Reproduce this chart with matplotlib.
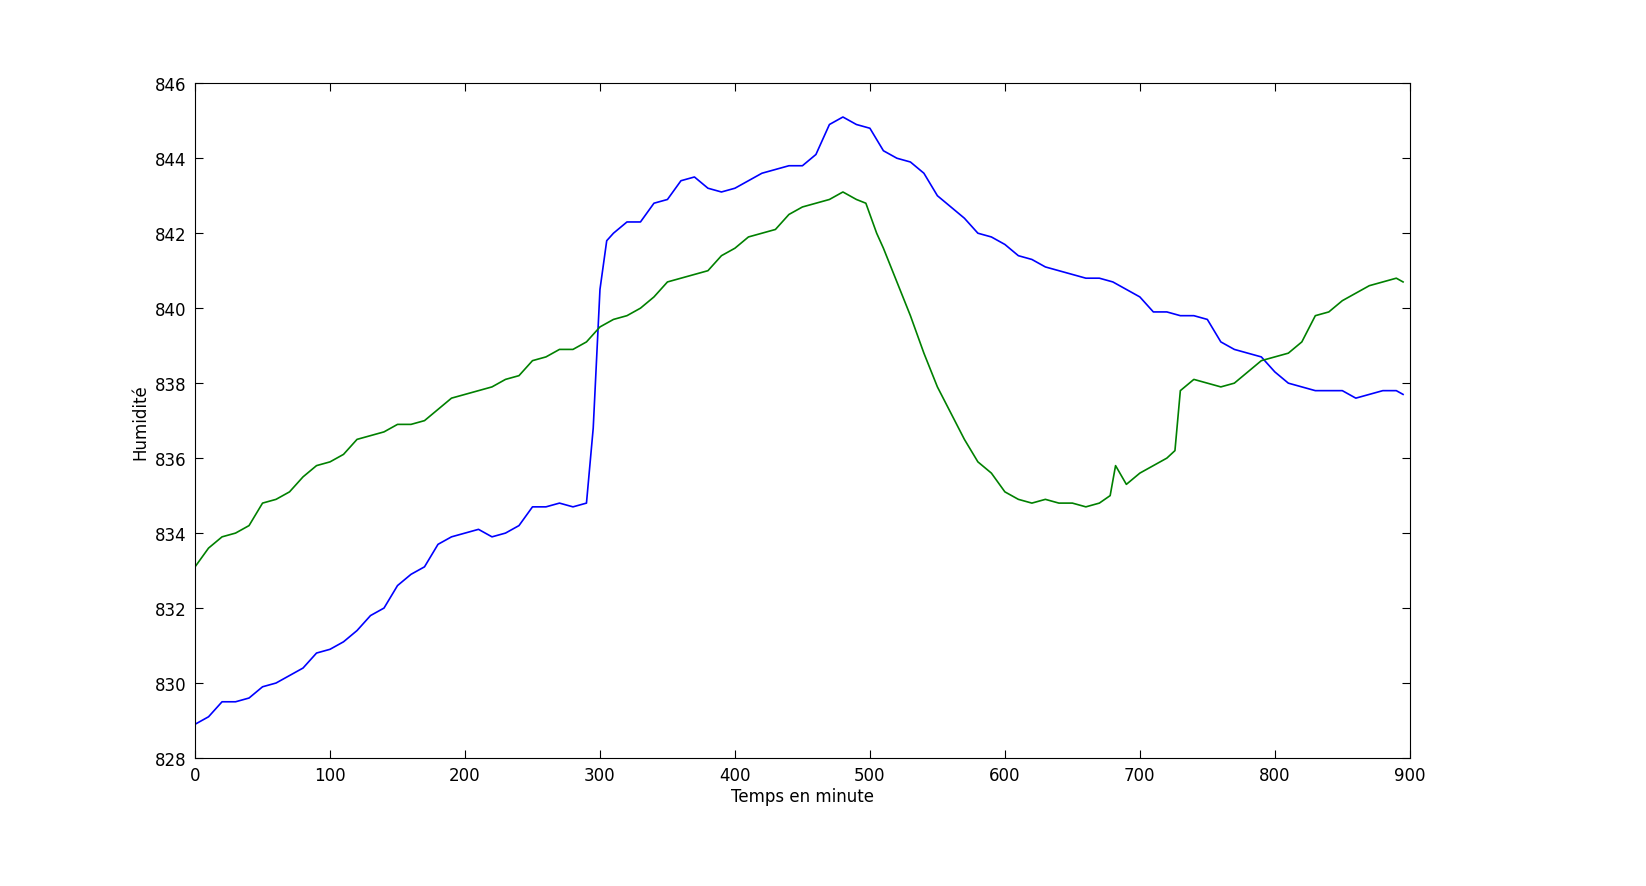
import matplotlib.pyplot as plt

t_bleu = [0, 10, 20, 30, 40, 50, 60, 70, 80, 90, 100, 110, 120, 130, 140, 150, 160, 170, 180, 190,
          200, 210, 220, 230, 240, 250, 260, 270, 280, 290, 295, 300, 305, 310, 320, 330, 340, 350,
          360, 370, 380, 390, 400, 410, 420, 430, 440, 450, 460, 470, 480, 490, 500, 510, 520, 530,
          540, 550, 560, 570, 580, 590, 600, 610, 620, 630, 640, 650, 660, 670, 680, 690, 700, 710,
          720, 730, 740, 750, 760, 770, 780, 790, 800, 810, 820, 830, 840, 850, 860, 870, 880, 890, 895]
bleu = [828.9, 829.1, 829.5, 829.5, 829.6, 829.9, 830.0, 830.2, 830.4, 830.8, 830.9, 831.1, 831.4,
        831.8, 832.0, 832.6, 832.9, 833.1, 833.7, 833.9, 834.0, 834.1, 833.9, 834.0, 834.2, 834.7,
        834.7, 834.8, 834.7, 834.8, 836.8, 840.5, 841.8, 842.0, 842.3, 842.3, 842.8, 842.9, 843.4,
        843.5, 843.2, 843.1, 843.2, 843.4, 843.6, 843.7, 843.8, 843.8, 844.1, 844.9, 845.1, 844.9,
        844.8, 844.2, 844.0, 843.9, 843.6, 843.0, 842.7, 842.4, 842.0, 841.9, 841.7, 841.4, 841.3,
        841.1, 841.0, 840.9, 840.8, 840.8, 840.7, 840.5, 840.3, 839.9, 839.9, 839.8, 839.8, 839.7,
        839.1, 838.9, 838.8, 838.7, 838.3, 838.0, 837.9, 837.8, 837.8, 837.8, 837.6, 837.7, 837.8,
        837.8, 837.7]

t_vert = [0, 10, 20, 30, 40, 50, 60, 70, 80, 90, 100, 110, 120, 130, 140, 150, 160, 170, 180, 190,
          200, 210, 220, 230, 240, 250, 260, 270, 280, 290, 300, 310, 320, 330, 340, 350, 360, 370,
          380, 390, 400, 410, 420, 430, 440, 450, 460, 470, 480, 490, 497, 505, 510, 520, 530, 540,
          550, 560, 570, 580, 590, 600, 610, 620, 630, 640, 650, 660, 670, 678, 682, 690, 700, 710,
          720, 726, 730, 740, 750, 760, 770, 780, 790, 800, 810, 820, 830, 840, 850, 860, 870, 880,
          890, 895]
vert = [833.1, 833.6, 833.9, 834.0, 834.2, 834.8, 834.9, 835.1, 835.5, 835.8, 835.9, 836.1, 836.5,
        836.6, 836.7, 836.9, 836.9, 837.0, 837.3, 837.6, 837.7, 837.8, 837.9, 838.1, 838.2, 838.6,
        838.7, 838.9, 838.9, 839.1, 839.5, 839.7, 839.8, 840.0, 840.3, 840.7, 840.8, 840.9, 841.0,
        841.4, 841.6, 841.9, 842.0, 842.1, 842.5, 842.7, 842.8, 842.9, 843.1, 842.9, 842.8, 842.0,
        841.6, 840.7, 839.8, 838.8, 837.9, 837.2, 836.5, 835.9, 835.6, 835.1, 834.9, 834.8, 834.9,
        834.8, 834.8, 834.7, 834.8, 835.0, 835.8, 835.3, 835.6, 835.8, 836.0, 836.2, 837.8, 838.1,
        838.0, 837.9, 838.0, 838.3, 838.6, 838.7, 838.8, 839.1, 839.8, 839.9, 840.2, 840.4, 840.6,
        840.7, 840.8, 840.7]

fig = plt.figure(figsize=(16.46, 8.87), dpi=100)
ax = fig.add_axes([0.1185, 0.1443, 0.738, 0.7607])
ax.plot(t_bleu, bleu, color='blue', lw=1.2)
ax.plot(t_vert, vert, color='green', lw=1.2)
ax.set_xlim(0, 900)
ax.set_ylim(828, 846)
ax.set_yticks(range(828, 847, 2))
ax.tick_params(direction='in', top=True, right=True, labelsize=12, length=6, pad=6)
ax.set_xlabel('Temps en minute', fontsize=12, labelpad=2)
ax.set_ylabel('Humidité', fontsize=12)
fig.savefig('out.png')
